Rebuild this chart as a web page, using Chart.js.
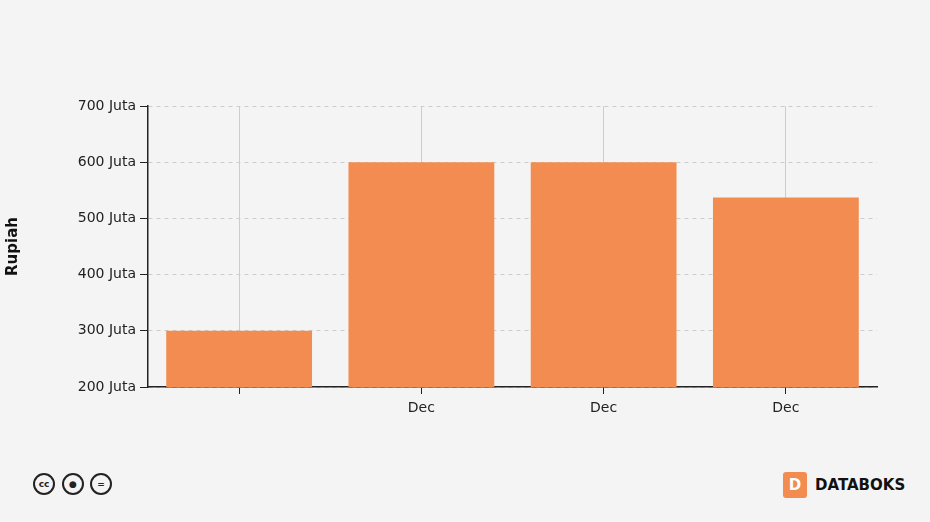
<!DOCTYPE html>
<html>
<head>
<meta charset="utf-8">
<script src="https://cdn.jsdelivr.net/npm/chart.js@4"></script>
<style>
  body { margin: 0; background: #f4f4f4; font-family: "DejaVu Sans", sans-serif; }
  #wrap { position: absolute; left: 0; top: 0; width: 930px; height: 440px; }
  .cc { position: absolute; top: 473px; width: 18px; height: 18px; border: 2px solid #222; border-radius: 50%;
        font-size: 9px; font-weight: bold; line-height: 18px; text-align: center; color: #222; box-sizing: content-box; }
  #brand { position: absolute; left: 783px; top: 472px; display: flex; align-items: center; }
  #logo { width: 24px; height: 26px; background: #f28c50; border-radius: 3px; color: #fff; font-weight: bold;
          font-size: 15px; text-align: center; line-height: 26px; }
  #brand span { margin-left: 8px; font-weight: bold; font-size: 15px; color: #111; }
</style>
</head>
<body>
<div id="wrap"><canvas id="chart" width="930" height="440"></canvas></div>
<div class="cc" style="left:33px">cc</div>
<div class="cc" style="left:62px">&#9679;</div>
<div class="cc" style="left:90px">=</div>
<div id="brand"><div id="logo">D</div><span>DATABOKS</span></div>
<script>
const kategori = ["", "Dec", "Dec", "Dec"];
const nilai = [300, 600, 600, 537];  // dalam juta rupiah
const ticksY = [200, 300, 400, 500, 600, 700];

const ctx = document.getElementById('chart').getContext('2d');
new Chart(ctx, {
    type: 'bar',
    data: {
        labels: kategori,
        datasets: [{
            data: nilai,
            backgroundColor: '#f28c50',
            barPercentage: 0.8,
            categoryPercentage: 1.0
        }]
    },
    options: {
        responsive: false,
        animation: false,
        layout: { padding: { top: 106, right: 53, left: 0, bottom: 0 } },
        plugins: { legend: { display: false }, tooltip: { enabled: false } },
        scales: {
            x: {
                afterFit: s => { s.height = 53; },
                grid: { display: true, color: '#cccccc', drawOnChartArea: true, tickLength: 7,
                        tickColor: '#222', offset: false },
                border: { color: '#222', width: 1.5, dash: [] },
                ticks: { color: '#222', font: { family: 'DejaVu Sans', size: 14 }, padding: 6 }
            },
            y: {
                min: 200, max: 700,
                afterFit: s => { s.width = 148; },
                afterBuildTicks: s => { s.ticks = ticksY.map(v => ({ value: v })); },
                grid: { color: '#cccccc', tickLength: 8, tickColor: '#222' },
                border: { color: '#222', width: 1.5, dash: [4, 4] },
                ticks: { color: '#222', font: { family: 'DejaVu Sans', size: 14 }, padding: 4,
                         callback: v => v + ' Juta' },
                title: { display: true, text: 'Rupiah', color: '#111',
                         font: { family: 'DejaVu Sans', size: 15, weight: 'bold' } }
            }
        }
    }
});
</script>
</body>
</html>
